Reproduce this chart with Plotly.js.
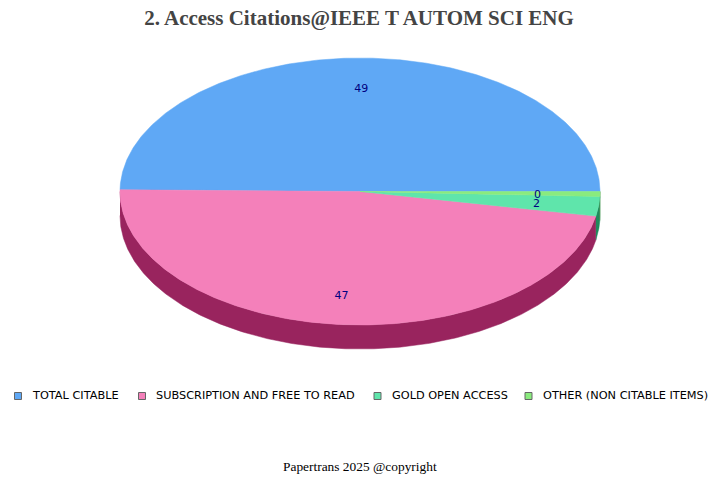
<!DOCTYPE html>
<html>
<head>
<meta charset="utf-8">
<script src="https://cdn.plot.ly/plotly-3.0.1.min.js"></script>
<style>html,body{margin:0;padding:0;background:#fff}#chart{width:720px;height:480px}</style>
</head>
<body>
<div id="chart"></div>
<script>
const categories = ["TOTAL CITABLE", "SUBSCRIPTION AND FREE TO READ", "GOLD OPEN ACCESS", "OTHER (NON CITABLE ITEMS)"];
const shares = [49.8, 47.25, 2.35, 0.6];
const labels = ["49", "47", "2", "0"];
const topColors = ["#5FA8F5", "#F480BA", "#5FE5AB", "#8AEB7E"];
const wallColors = ["#1F5A99", "#99245E", "#1F8A5C", "#3F8F35"];
const legendX = [14.5, 138.5, 374, 525];

const cx = 360, cy = 191.5, rx = 240, ry = 133.5, depth = 24;
const px = t => cx + rx * Math.cos(t * Math.PI / 180);
const py = t => cy - ry * Math.sin(t * Math.PI / 180);

function arc(a, b) {
  const n = Math.max(2, Math.ceil(Math.abs(b - a) * 2));
  const ts = [];
  for (let i = 0; i <= n; i++) ts.push(a + (b - a) * i / n);
  return ts;
}

const traces = [];
const total = shares.reduce((s, v) => s + v, 0);
let start = 0;
const textX = [], textY = [];
shares.forEach((v, i) => {
  const end = start + v / total * 360;
  // front wall: only the part of the slice facing the viewer
  const wa = Math.max(start, 180), wb = Math.min(end, 360);
  if (wb > wa) {
    const ts = arc(wa, wb);
    traces.push({
      type: "scatter", mode: "lines", fill: "toself", fillcolor: wallColors[i],
      line: {width: 0.5, color: wallColors[i]}, hoverinfo: "skip", showlegend: false,
      x: ts.map(px).concat(ts.slice().reverse().map(px)),
      y: ts.map(t => py(t) + depth).concat(ts.slice().reverse().map(py))
    });
  }
  start = end;
});
start = 0;
shares.forEach((v, i) => {
  const end = start + v / total * 360;
  const ts = arc(start, end);
  traces.push({
    type: "scatter", mode: "lines", fill: "toself", fillcolor: topColors[i],
    line: {width: 0.5, color: topColors[i]}, name: categories[i], showlegend: false,
    hoverinfo: "name",
    x: [cx].concat(ts.map(px), [cx]),
    y: [cy].concat(ts.map(py), [cy])
  });
  const mid = (start + end) / 2, r = v < 5 ? 0.74 : 0.78;
  textX.push(cx + r * rx * Math.cos(mid * Math.PI / 180));
  textY.push(cy + 1.5 - r * ry * Math.sin(mid * Math.PI / 180));
  start = end;
});
traces.push({
  type: "scatter", mode: "text", x: textX, y: textY, text: labels,
  textfont: {family: "DejaVu Sans", size: 11, color: "#000080"},
  textposition: "middle center", hoverinfo: "skip", showlegend: false
});

const annotations = categories.map((c, i) => ({
  xref: "paper", yref: "paper", x: (legendX[i] + 15.5) / 720, y: 1 - 395.5 / 480,
  xanchor: "left", yanchor: "middle", showarrow: false, text: c, align: "left",
  font: {family: "DejaVu Sans", size: 11.3, color: "#000"}
}));
annotations.push({
  xref: "paper", yref: "paper", x: 359.5 / 720, y: 1 - 466 / 480,
  xanchor: "center", yanchor: "middle", showarrow: false, text: "Papertrans 2025 @copyright",
  font: {family: "Liberation Serif", size: 13.4, color: "#000"}
});

const shapes = categories.map((c, i) => ({
  type: "rect", xref: "paper", yref: "paper",
  x0: legendX[i] / 720, x1: (legendX[i] + 7) / 720,
  y0: 1 - 399.5 / 480, y1: 1 - 392.5 / 480,
  fillcolor: topColors[i], line: {color: "#666", width: 1}
}));

Plotly.newPlot("chart", traces, {
  width: 720, height: 480,
  margin: {l: 0, r: 0, t: 0, b: 0},
  paper_bgcolor: "#fff", plot_bgcolor: "#fff",
  title: {text: "<b>2. Access Citations@IEEE T AUTOM SCI ENG</b>", x: 359 / 720, xanchor: "center",
    y: 1 - 18 / 480, yanchor: "middle",
    font: {family: "Liberation Serif", size: 21, color: "#444"}},
  xaxis: {range: [0, 720], visible: false, fixedrange: true},
  yaxis: {range: [480, 0], visible: false, fixedrange: true},
  showlegend: false,
  annotations, shapes
}, {displayModeBar: false, staticPlot: true});
</script>
</body>
</html>
